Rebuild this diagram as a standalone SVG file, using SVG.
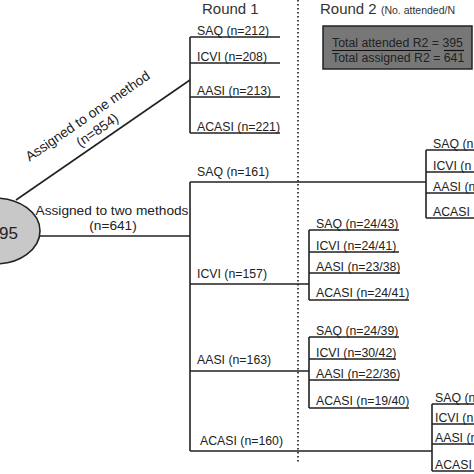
<svg xmlns="http://www.w3.org/2000/svg" width="474" height="474" viewBox="0 0 474 474">
<style>
.ln{stroke:#222;stroke-width:1.6;fill:none}
.t{font-family:"Liberation Sans",Arial,sans-serif;font-size:12.3px;fill:#222}
.big{font-family:"Liberation Sans",Arial,sans-serif;font-size:13.7px;fill:#222}
.hd{font-family:"Liberation Sans",Arial,sans-serif;font-size:15px;fill:#333}
.sm{font-family:"Liberation Sans",Arial,sans-serif;font-size:10.5px;fill:#333}
</style>
<rect width="474" height="474" fill="#fff"/>
<g id="headers">
<text class="hd" x="202" y="14">Round 1</text>
<text class="hd" x="320" y="14">Round 2 <tspan class="sm">(No. attended/N</tspan></text>
</g>
<line id="divider" x1="298" y1="0" x2="298" y2="464" stroke="#333" stroke-width="1.8" stroke-dasharray="1.6 2.4"/>
<g id="summary-box">
<rect x="323" y="26" width="149" height="43" fill="#777" stroke="#222" stroke-width="1.5"/>
<text class="t" x="332" y="47">Total attended R2 = 395</text>
<text class="t" x="332" y="62">Total assigned R2 = 641</text>
<line x1="332" y1="50.5" x2="431" y2="50.5" stroke="#111" stroke-width="1.2"/>
<line x1="444" y1="50.5" x2="464" y2="50.5" stroke="#111" stroke-width="1.2"/>
</g>
<g id="root">
<ellipse cx="-5" cy="231" rx="45" ry="33" fill="#c8c8c8" stroke="#222" stroke-width="1.6"/>
<text x="18" y="239" text-anchor="end" font-family="Liberation Sans, Arial, sans-serif" font-size="17" fill="#222">95</text>
</g>
<g id="connectors">
<path class="ln" d="M16 200 L190 80"/>
<path class="ln" d="M40 236 L190 236"/>
<path class="ln" d="M190 37 V133 M190 37 H280 M190 63 H280 M190 97 H280 M190 133 H280"/>
<path class="ln" d="M190 182 V451 M190 182 H426 M190 284 H309 M190 371 H309 M190 451 H432"/>
<path class="ln" d="M426 150 V218 M426 150 H474 M426 172 H474 M426 193 H474 M426 218 H474"/>
<path class="ln" d="M309 230 V300 M309 230 H399 M309 252 H399 M309 273 H400 M309 300 H409"/>
<path class="ln" d="M309 337 V408 M309 337 H399 M309 359 H396 M309 380 H399 M309 408 H409"/>
<path class="ln" d="M432 404 V471 M432 404 H474 M432 424 H474 M432 444 H474 M432 471 H474"/>
</g>
<g id="edge-labels">
<g transform="translate(96.5,129) rotate(-34.6)">
<text class="big" x="0" y="-11" text-anchor="middle">Assigned to one method</text>
<text class="big" x="0" y="6" text-anchor="middle">(n=854)</text>
</g>
<text class="big" x="112" y="215" text-anchor="middle">Assigned to two methods</text>
<text class="big" x="113" y="230" text-anchor="middle">(n=641)</text>
</g>
<g id="round1-one">
<text class="t" x="197" y="35">SAQ (n=212)</text>
<text class="t" x="197" y="61">ICVI (n=208)</text>
<text class="t" x="197" y="95">AASI (n=213)</text>
<text class="t" x="197" y="131">ACASI (n=221)</text>
</g>
<g id="round1-two">
<text class="t" x="197" y="176">SAQ (n=161)</text>
<text class="t" x="197" y="278">ICVI (n=157)</text>
<text class="t" x="197" y="364">AASI (n=163)</text>
<text class="t" x="200" y="445">ACASI (n=160)</text>
</g>
<g id="r2-saq">
<text class="t" x="433" y="148">SAQ (n</text>
<text class="t" x="433" y="170">ICVI (n</text>
<text class="t" x="433" y="191">AASI (n</text>
<text class="t" x="433" y="216">ACASI</text>
</g>
<g id="r2-icvi">
<text class="t" x="316" y="228">SAQ (n=24/43)</text>
<text class="t" x="316" y="250">ICVI (n=24/41)</text>
<text class="t" x="316" y="271">AASI (n=23/38)</text>
<text class="t" x="316" y="297">ACASI (n=24/41)</text>
</g>
<g id="r2-aasi">
<text class="t" x="316" y="335">SAQ (n=24/39)</text>
<text class="t" x="316" y="357">ICVI (n=30/42)</text>
<text class="t" x="316" y="378">AASI (n=22/36)</text>
<text class="t" x="316" y="405">ACASI (n=19/40)</text>
</g>
<g id="r2-acasi">
<text class="t" x="435" y="402">SAQ (n</text>
<text class="t" x="435" y="422">ICVI (n</text>
<text class="t" x="435" y="442">AASI (n</text>
<text class="t" x="435" y="469">ACASI</text>
</g>
</svg>
